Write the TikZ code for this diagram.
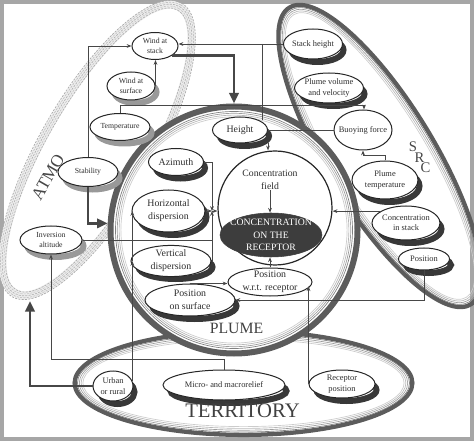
\documentclass[tikz,border=0pt]{standalone}
\usepackage{fontspec}
\setmainfont{Liberation Serif}
\usetikzlibrary{shapes.geometric,arrows.meta,calc}
\newcommand\srcband[4]{%
  \begin{scope}[rotate around={#4:(#1)}]
    \pgfmathsetmacro\ra{#2-2.1}\pgfmathsetmacro\rb{#3-2.1}
    \draw[black!64, line width=3.2pt] (#1) ellipse [x radius=\ra, y radius=\rb];
    \foreach \kk/\cc in {5/50,6.8/38,8.6/28,10.4/20}{
      \pgfmathsetmacro\ra{#2-\kk}\pgfmathsetmacro\rb{#3-\kk}
      \draw[black!\cc, line width=0.5pt] (#1) ellipse [x radius=\ra, y radius=\rb];
    }
  \end{scope}}
\newcommand\atmoband[4]{%
  \begin{scope}[rotate around={#4:(#1)}]
    \pgfmathsetmacro\ra{#2-5}\pgfmathsetmacro\rb{#3-5}
    \draw[black!7, line width=6pt] (#1) ellipse [x radius=\ra, y radius=\rb];
    \foreach \kk/\cc in {0.5/34,2.5/24,4.5/30,6.5/22,8.5/32}{
      \pgfmathsetmacro\ra{#2-\kk}\pgfmathsetmacro\rb{#3-\kk}
      \draw[black!\cc, line width=0.5pt, dash pattern=on 1.6pt off 0.9pt] (#1) ellipse [x radius=\ra, y radius=\rb];
    }
  \end{scope}}
% shadow drawn as a thick offset ring; the white node drawn over it leaves a crescent
\newcommand\ringshadow[4]{%
  \begin{scope}[rotate around={0:(#2)}]
    \pgfmathsetmacro\ra{#3-3}\pgfmathsetmacro\rb{#4-3}
    \draw[#1, line width=4.5pt] (#2) ++(4.5,6) ellipse [x radius=\ra, y radius=\rb];
  \end{scope}}
\begin{document}
\begin{tikzpicture}[x=0.75pt,y=-0.75pt,
  every node/.style={inner sep=0pt, align=center, text=black!82},
  el/.style 2 args={ellipse, draw=black!85, line width=0.75pt, fill=white, minimum width=#1*0.75pt, minimum height=#2*0.75pt},
  fa/.style={font=\fontsize{5.8}{7.6}\selectfont},
  fsr/.style={font=\fontsize{6.3}{7.7}\selectfont},
  fpl/.style={font=\fontsize{7.4}{9.8}\selectfont},
  fte/.style={font=\fontsize{6.3}{8}\selectfont},
  conn/.style={draw=black!72, line width=0.6pt},
  arr/.style={conn, -{Stealth[length=3.6pt,width=2.8pt]}},
  bigarr/.style={draw=black!72, line width=2.2pt, -{Triangle[length=8pt,width=7pt]}},
]
\useasboundingbox (0,0) rectangle (474,441);
\draw[black!35, line width=3pt] (2,2) rectangle (472,439);

% big domains
\atmoband{97,150}{170}{58}{60}
\srcband{380,156}{176}{56}{-58.6}
\srcband{243.5,383}{171}{54}{0}

% plume
\node[circle, draw=black!64, line width=4.5pt, fill=white, minimum size=185.25pt] (plume) at (234,230) {};
\foreach \rr/\cc in {118.5/50,116.7/38,114.9/28,113.1/20}
  \draw[black!\cc, line width=0.5pt] (plume.center) circle [radius=\rr];

\node[circle, draw=black!85, line width=0.9pt, minimum size=85.5pt] (cfield) at (275,208) {};
\node[font=\fontsize{7.3}{9.7}\selectfont] (cftext) at (270,180) {Concentration\\field};
\node[ellipse, fill=black!76, draw=black!76, minimum width=76.5pt, minimum height=33pt, inner xsep=-9pt, inner ysep=-3pt, text=white, font=\fontsize{7.3}{9.3}\selectfont] (crec) at (271,235) {CONCENTRATION\\ON THE\\RECEPTOR};

% shadows
\ringshadow{black!40}{131,86}{24}{14}
\ringshadow{black!40}{120,127}{30}{13.5}
\ringshadow{black!40}{88,172}{30}{14.5}
\ringshadow{black!40}{51,240}{31}{14}
\ringshadow{black!78}{176,162}{27.5}{13.5}
\ringshadow{black!78}{168.5,211}{36.5}{21}
\ringshadow{black!78}{171,261}{40}{15}
\ringshadow{black!78}{190,300}{45}{16}
\ringshadow{black!78}{240,130}{27.5}{13}
\ringshadow{black!78}{313,44}{29}{15}
\ringshadow{black!78}{329,88}{34}{15}
\ringshadow{black!78}{385,180}{33}{19}
\ringshadow{black!78}{406,223}{34}{17}
\ringshadow{black!78}{424,259}{25.5}{11}
\ringshadow{black!78}{113,386}{20}{15}
\ringshadow{black!78}{224,385}{61}{15}
\ringshadow{black!78}{342,384}{33}{14}

% coordinates for connector ends
\coordinate (j1) at (262,44);
\coordinate (j2) at (364,105);
\coordinate (h1) at (268,143);
\coordinate (m) at (212,211);
\coordinate (atmob) at (30,301);

% nodes
\node[el={46}{27}, fa] (wstack) at (155,46) {Wind at\\stack};
\node[el={48}{28}, fa] (wsurf) at (131,86) {Wind at\\surface};
\node[el={60}{27}, fa] (temp) at (120,127) {Temperature};
\node[el={60}{29}, fa] (stab) at (88,172) {Stability};
\node[el={62}{28}, fa] (inv) at (51,240) {Inversion\\altitude};
\node[el={55}{27}, fpl] (azim) at (176,162) {Azimuth};
\node[el={73}{42}, fpl] (hdisp) at (168.5,211) {Horizontal\\dispersion};
\node[el={80}{30}, fpl] (vdisp) at (171,261) {Vertical\\dispersion};
\node[el={90}{32}, fpl] (possurf) at (190,300) {Position\\on surface};
\node[el={84}{28}, fpl, inner ysep=-2pt] (poswrt) at (270,282) {Position\\w.r.t. receptor};
\node[el={55}{26}, fpl] (height) at (240,130) {Height};
\node[el={58}{30}, fsr] (stackh) at (313,44) {Stack height};
\node[el={68}{30}, fsr] (pvol) at (329,88) {Plume volume\\and velocity};
\node[el={58}{40}, fsr, inner xsep=-5pt] (buoy) at (363,130) {Buoying force};
\node[el={66}{38}, fsr] (ptemp) at (385,180) {Plume\\temperature};
\node[el={68}{34}, fsr] (cstack) at (406,223) {Concentration\\in stack};
\node[el={51}{22}, fsr] (possrc) at (424,259) {Position};
\node[el={40}{30}, fte] (urban) at (113,386) {Urban\\or rural};
\node[el={122}{30}, fte] (micro) at (224,385) {Micro- and macrorelief};
\node[el={66}{28}, fte] (recpos) at (342,384) {Receptor\\position};

% connectors
\draw[arr] (stab.north) |- (wstack.west);
\draw[arr] (stackh.west) -- (stackh.west -| wstack.east);
\draw[conn] (j1) -- (j1 |- height.north east);
\draw[conn] (buoy.west) -- (buoy.west -| height.east);
\draw[arr] (h1) -- (h1 |- cfield.north);
\draw[bigarr] (wstack.south east) -| (plume.north);
\draw[arr] (wsurf.east) -- (wsurf.east |- wstack.south);
\draw[conn] (temp.north) |- (j2);
\draw[arr] (j2) -- (j2 |- buoy.north);
\draw[arr] (ptemp.north) -- ++(0,-5) -| (buoy.south);
\draw[arr] (cstack.155) -- (cstack.155 -| cfield.east);
\draw[arr] (possrc.south) |- (possurf.east);
\draw[arr] (possurf.north) -- (possurf.north -| poswrt.west);
\draw[arr] (poswrt.north) -- (poswrt.north |- crec.south);
\draw[arr] (recpos.west) -- (recpos.west |- poswrt.354);
\draw[arr] (micro.north) -- ++(0,-10) -| (inv.south);
\draw[arr] (urban.15) -- (urban.15 |- vdisp.west);
\draw[arr] (urban.15 |- vdisp.west) -- (urban.15 |- hdisp.west);
\draw[arr] (azim.east) -| (m);
\draw[arr] (vdisp.east) -| (m);
\draw[arr] (hdisp.east) -- (m);
\draw[conn] (inv.east) -- (inv.east -| m);
\draw[arr] (m) -- (m -| cfield.west);
\draw[arr] (cftext.south) -- (cftext.south |- crec.north);
\draw[bigarr] (stab.south) |- (plume.177);
\draw[bigarr] (urban.west) -| (atmob);

% labels
\node[font=\fontsize{13}{13}\selectfont, text=black!72, rotate=60] (atmol) at (48,177) {ATMO};
\node[font=\fontsize{11}{11}\selectfont, text=black!72] (srcs) at (413,147) {S};
\node[font=\fontsize{11}{11}\selectfont, text=black!72] (srcr) at (419.5,157.5) {R};
\node[font=\fontsize{11}{11}\selectfont, text=black!72] (srcc) at (425.5,168) {C};
\node[font=\fontsize{11.8}{12}\selectfont, text=black!75] (plumel) at (236.5,328.5) {PLUME};
\node[font=\fontsize{15.5}{16}\selectfont, text=black!75] (terrl) at (242.5,410.5) {TERRITORY};
\end{tikzpicture}
\end{document}
